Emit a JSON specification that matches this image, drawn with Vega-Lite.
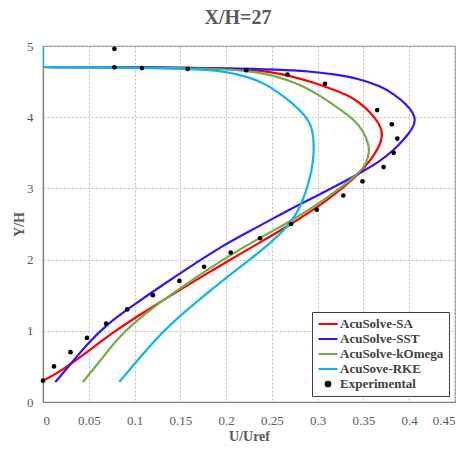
{
  "$schema": "https://vega.github.io/schema/vega-lite/v6.json",
  "autosize": "none",
  "width": 412,
  "height": 356,
  "padding": {"left": 43, "top": 46, "right": 21, "bottom": 47},
  "background": "white",
  "title": {
    "text": "X/H=27",
    "anchor": "middle",
    "font": "Liberation Serif, Times New Roman, serif",
    "fontSize": 20,
    "fontWeight": "bold",
    "color": "#595959",
    "dx": -11,
    "offset": 12
  },
  "datasets": {
    "curves": [
      {"s": "AcuSolve-SA", "i": 1, "u": 0.0, "y": 0.3},
      {"s": "AcuSolve-SA", "i": 2, "u": 0.015, "y": 0.4},
      {"s": "AcuSolve-SA", "i": 3, "u": 0.03, "y": 0.53},
      {"s": "AcuSolve-SA", "i": 4, "u": 0.055, "y": 0.77},
      {"s": "AcuSolve-SA", "i": 5, "u": 0.079, "y": 1.0},
      {"s": "AcuSolve-SA", "i": 6, "u": 0.11, "y": 1.26},
      {"s": "AcuSolve-SA", "i": 7, "u": 0.14, "y": 1.5},
      {"s": "AcuSolve-SA", "i": 8, "u": 0.172, "y": 1.75},
      {"s": "AcuSolve-SA", "i": 9, "u": 0.2045, "y": 2.0},
      {"s": "AcuSolve-SA", "i": 10, "u": 0.237, "y": 2.24},
      {"s": "AcuSolve-SA", "i": 11, "u": 0.27, "y": 2.49},
      {"s": "AcuSolve-SA", "i": 12, "u": 0.31, "y": 2.82},
      {"s": "AcuSolve-SA", "i": 13, "u": 0.3455, "y": 3.2},
      {"s": "AcuSolve-SA", "i": 14, "u": 0.358, "y": 3.4},
      {"s": "AcuSolve-SA", "i": 15, "u": 0.367, "y": 3.58},
      {"s": "AcuSolve-SA", "i": 16, "u": 0.371, "y": 3.73},
      {"s": "AcuSolve-SA", "i": 17, "u": 0.369, "y": 3.87},
      {"s": "AcuSolve-SA", "i": 18, "u": 0.362, "y": 4.0},
      {"s": "AcuSolve-SA", "i": 19, "u": 0.352, "y": 4.14},
      {"s": "AcuSolve-SA", "i": 20, "u": 0.339, "y": 4.27},
      {"s": "AcuSolve-SA", "i": 21, "u": 0.323, "y": 4.36},
      {"s": "AcuSolve-SA", "i": 22, "u": 0.3, "y": 4.47},
      {"s": "AcuSolve-SA", "i": 23, "u": 0.27, "y": 4.58},
      {"s": "AcuSolve-SA", "i": 24, "u": 0.245, "y": 4.645},
      {"s": "AcuSolve-SA", "i": 25, "u": 0.215, "y": 4.678},
      {"s": "AcuSolve-SA", "i": 26, "u": 0.16, "y": 4.695},
      {"s": "AcuSolve-SA", "i": 27, "u": 0.08, "y": 4.703},
      {"s": "AcuSolve-SA", "i": 28, "u": 0.0, "y": 4.705},

      {"s": "AcuSolve-SST", "i": 1, "u": 0.0134, "y": 0.28},
      {"s": "AcuSolve-SST", "i": 2, "u": 0.028, "y": 0.5},
      {"s": "AcuSolve-SST", "i": 3, "u": 0.05, "y": 0.84},
      {"s": "AcuSolve-SST", "i": 4, "u": 0.07, "y": 1.09},
      {"s": "AcuSolve-SST", "i": 5, "u": 0.092, "y": 1.3},
      {"s": "AcuSolve-SST", "i": 6, "u": 0.13, "y": 1.64},
      {"s": "AcuSolve-SST", "i": 7, "u": 0.17, "y": 1.98},
      {"s": "AcuSolve-SST", "i": 8, "u": 0.1935, "y": 2.17},
      {"s": "AcuSolve-SST", "i": 9, "u": 0.2155, "y": 2.33},
      {"s": "AcuSolve-SST", "i": 10, "u": 0.2517, "y": 2.58},
      {"s": "AcuSolve-SST", "i": 11, "u": 0.281, "y": 2.78},
      {"s": "AcuSolve-SST", "i": 12, "u": 0.315, "y": 3.0},
      {"s": "AcuSolve-SST", "i": 13, "u": 0.3455, "y": 3.21},
      {"s": "AcuSolve-SST", "i": 14, "u": 0.368, "y": 3.38},
      {"s": "AcuSolve-SST", "i": 15, "u": 0.3826, "y": 3.53},
      {"s": "AcuSolve-SST", "i": 16, "u": 0.396, "y": 3.71},
      {"s": "AcuSolve-SST", "i": 17, "u": 0.404, "y": 3.85},
      {"s": "AcuSolve-SST", "i": 18, "u": 0.407, "y": 3.96},
      {"s": "AcuSolve-SST", "i": 19, "u": 0.404, "y": 4.07},
      {"s": "AcuSolve-SST", "i": 20, "u": 0.396, "y": 4.19},
      {"s": "AcuSolve-SST", "i": 21, "u": 0.384, "y": 4.32},
      {"s": "AcuSolve-SST", "i": 22, "u": 0.368, "y": 4.44},
      {"s": "AcuSolve-SST", "i": 23, "u": 0.345, "y": 4.54},
      {"s": "AcuSolve-SST", "i": 24, "u": 0.321, "y": 4.6},
      {"s": "AcuSolve-SST", "i": 25, "u": 0.29, "y": 4.645},
      {"s": "AcuSolve-SST", "i": 26, "u": 0.259, "y": 4.67},
      {"s": "AcuSolve-SST", "i": 27, "u": 0.2, "y": 4.688},
      {"s": "AcuSolve-SST", "i": 28, "u": 0.12, "y": 4.7},
      {"s": "AcuSolve-SST", "i": 29, "u": 0.0, "y": 4.705},

      {"s": "AcuSolve-kOmega", "i": 1, "u": 0.0436, "y": 0.28},
      {"s": "AcuSolve-kOmega", "i": 2, "u": 0.065, "y": 0.62},
      {"s": "AcuSolve-kOmega", "i": 3, "u": 0.087, "y": 0.98},
      {"s": "AcuSolve-kOmega", "i": 4, "u": 0.12, "y": 1.33},
      {"s": "AcuSolve-kOmega", "i": 5, "u": 0.15, "y": 1.6},
      {"s": "AcuSolve-kOmega", "i": 6, "u": 0.196, "y": 2.0},
      {"s": "AcuSolve-kOmega", "i": 7, "u": 0.237, "y": 2.31},
      {"s": "AcuSolve-kOmega", "i": 8, "u": 0.27, "y": 2.53},
      {"s": "AcuSolve-kOmega", "i": 9, "u": 0.31, "y": 2.86},
      {"s": "AcuSolve-kOmega", "i": 10, "u": 0.3455, "y": 3.21},
      {"s": "AcuSolve-kOmega", "i": 11, "u": 0.353, "y": 3.35},
      {"s": "AcuSolve-kOmega", "i": 12, "u": 0.3565, "y": 3.5},
      {"s": "AcuSolve-kOmega", "i": 13, "u": 0.3555, "y": 3.64},
      {"s": "AcuSolve-kOmega", "i": 14, "u": 0.349, "y": 3.82},
      {"s": "AcuSolve-kOmega", "i": 15, "u": 0.34, "y": 3.96},
      {"s": "AcuSolve-kOmega", "i": 16, "u": 0.328, "y": 4.08},
      {"s": "AcuSolve-kOmega", "i": 17, "u": 0.303, "y": 4.3},
      {"s": "AcuSolve-kOmega", "i": 18, "u": 0.285, "y": 4.43},
      {"s": "AcuSolve-kOmega", "i": 19, "u": 0.268, "y": 4.52},
      {"s": "AcuSolve-kOmega", "i": 20, "u": 0.245, "y": 4.61},
      {"s": "AcuSolve-kOmega", "i": 21, "u": 0.22, "y": 4.655},
      {"s": "AcuSolve-kOmega", "i": 22, "u": 0.19, "y": 4.678},
      {"s": "AcuSolve-kOmega", "i": 23, "u": 0.13, "y": 4.695},
      {"s": "AcuSolve-kOmega", "i": 24, "u": 0.0, "y": 4.705},

      {"s": "AcuSove-RKE", "i": 1, "u": 0.0833, "y": 0.28},
      {"s": "AcuSove-RKE", "i": 2, "u": 0.106, "y": 0.63},
      {"s": "AcuSove-RKE", "i": 3, "u": 0.128, "y": 0.95},
      {"s": "AcuSove-RKE", "i": 4, "u": 0.15, "y": 1.22},
      {"s": "AcuSove-RKE", "i": 5, "u": 0.2, "y": 1.75},
      {"s": "AcuSove-RKE", "i": 6, "u": 0.2407, "y": 2.14},
      {"s": "AcuSove-RKE", "i": 7, "u": 0.2717, "y": 2.51},
      {"s": "AcuSove-RKE", "i": 8, "u": 0.283, "y": 2.8},
      {"s": "AcuSove-RKE", "i": 9, "u": 0.291, "y": 3.1},
      {"s": "AcuSove-RKE", "i": 10, "u": 0.2955, "y": 3.4},
      {"s": "AcuSove-RKE", "i": 11, "u": 0.296, "y": 3.65},
      {"s": "AcuSove-RKE", "i": 12, "u": 0.2935, "y": 3.88},
      {"s": "AcuSove-RKE", "i": 13, "u": 0.286, "y": 4.03},
      {"s": "AcuSove-RKE", "i": 14, "u": 0.273, "y": 4.19},
      {"s": "AcuSove-RKE", "i": 15, "u": 0.257, "y": 4.35},
      {"s": "AcuSove-RKE", "i": 16, "u": 0.2407, "y": 4.48},
      {"s": "AcuSove-RKE", "i": 17, "u": 0.226, "y": 4.56},
      {"s": "AcuSove-RKE", "i": 18, "u": 0.2, "y": 4.64},
      {"s": "AcuSove-RKE", "i": 19, "u": 0.17, "y": 4.673},
      {"s": "AcuSove-RKE", "i": 20, "u": 0.12, "y": 4.69},
      {"s": "AcuSove-RKE", "i": 21, "u": 0.06, "y": 4.7},
      {"s": "AcuSove-RKE", "i": 22, "u": 0.0, "y": 4.705},
      {"s": "AcuSove-RKE", "i": 23, "u": 0.0, "y": 4.705},
      {"s": "AcuSove-RKE", "i": 24, "u": 0.0, "y": 4.705},
      {"s": "AcuSove-RKE", "i": 25, "u": 0.0, "y": 5.0}
    ],
    "experimental": [
      {"s": "Experimental", "u": 0.0, "y": 0.3},
      {"s": "Experimental", "u": 0.012, "y": 0.5},
      {"s": "Experimental", "u": 0.03, "y": 0.7},
      {"s": "Experimental", "u": 0.048, "y": 0.9},
      {"s": "Experimental", "u": 0.069, "y": 1.1},
      {"s": "Experimental", "u": 0.092, "y": 1.3},
      {"s": "Experimental", "u": 0.12, "y": 1.5},
      {"s": "Experimental", "u": 0.149, "y": 1.7},
      {"s": "Experimental", "u": 0.176, "y": 1.9},
      {"s": "Experimental", "u": 0.205, "y": 2.1},
      {"s": "Experimental", "u": 0.237, "y": 2.3},
      {"s": "Experimental", "u": 0.271, "y": 2.5},
      {"s": "Experimental", "u": 0.299, "y": 2.7},
      {"s": "Experimental", "u": 0.328, "y": 2.9},
      {"s": "Experimental", "u": 0.349, "y": 3.1},
      {"s": "Experimental", "u": 0.372, "y": 3.3},
      {"s": "Experimental", "u": 0.383, "y": 3.5},
      {"s": "Experimental", "u": 0.387, "y": 3.7},
      {"s": "Experimental", "u": 0.381, "y": 3.9},
      {"s": "Experimental", "u": 0.365, "y": 4.1},
      {"s": "Experimental", "u": 0.308, "y": 4.47},
      {"s": "Experimental", "u": 0.267, "y": 4.6},
      {"s": "Experimental", "u": 0.222, "y": 4.66},
      {"s": "Experimental", "u": 0.158, "y": 4.68},
      {"s": "Experimental", "u": 0.108, "y": 4.69},
      {"s": "Experimental", "u": 0.078, "y": 4.7},
      {"s": "Experimental", "u": 0.078, "y": 4.96}
    ]
  },
  "encoding": {
    "x": {
      "field": "u",
      "type": "quantitative",
      "scale": {"domain": [0, 0.45], "nice": false, "zero": false},
      "axis": {
        "title": "U/Uref",
        "values": [0, 0.05, 0.1, 0.15, 0.2, 0.25, 0.3, 0.35, 0.4, 0.45],
        "format": "~g",
        "labelPadding": 12,
        "titlePadding": 2
      }
    },
    "y": {
      "field": "y",
      "type": "quantitative",
      "scale": {"domain": [0, 5], "nice": false},
      "axis": {
        "title": "Y/H",
        "values": [0, 1, 2, 3, 4, 5],
        "labelPadding": 10,
        "titlePadding": 0
      }
    },
    "color": {
      "field": "s",
      "type": "nominal",
      "scale": {
        "domain": ["AcuSolve-SA", "AcuSolve-SST", "AcuSolve-kOmega", "AcuSove-RKE", "Experimental"],
        "range": ["#ff0000", "#3314f5", "#70ad47", "#0fb4ee", "#000000"]
      },
      "legend": {
        "title": null,
        "orient": "bottom-right",
        "offset": 6,
        "padding": 5,
        "rowPadding": 1,
        "clipHeight": 14,
        "strokeColor": "#404040",
        "fillColor": "white",
        "symbolType": "stroke",
        "symbolSize": 360,
        "symbolStrokeWidth": 2.2,
        "labelFont": "Liberation Serif, Times New Roman, serif",
        "labelFontSize": 13,
        "labelFontWeight": "bold",
        "labelColor": "#404040",
        "labelOffset": 1,
        "encode": {
          "symbols": {
            "update": {
              "shape": {"signal": "datum.value === 'Experimental' ? 'circle' : 'stroke'"},
              "size": {"signal": "datum.value === 'Experimental' ? 20 : 360"},
              "fill": {"signal": "datum.value === 'Experimental' ? 'black' : 'transparent'"}
            }
          }
        }
      }
    }
  },
  "layer": [
    {
      "data": {"name": "curves"},
      "mark": {"type": "line", "interpolate": "basis", "strokeWidth": 2.2, "clip": true},
      "encoding": {"order": {"field": "i", "type": "quantitative"}}
    },
    {
      "data": {"name": "experimental"},
      "mark": {"type": "point", "filled": true, "size": 22, "opacity": 1}
    }
  ],
  "config": {
    "view": {"stroke": "#8c8c8c", "strokeWidth": 1.2},
    "axis": {
      "labelFont": "Liberation Serif, Times New Roman, serif",
      "labelFontSize": 13,
      "labelColor": "#595959",
      "titleFont": "Liberation Serif, Times New Roman, serif",
      "titleFontSize": 14,
      "titleFontWeight": "bold",
      "titleColor": "#595959",
      "domainColor": "#7f7f7f",
      "domainWidth": 1.2,
      "ticks": false,
      "gridColor": "#bfbfbf",
      "gridDash": [2, 2],
      "gridWidth": 1
    }
  }
}
